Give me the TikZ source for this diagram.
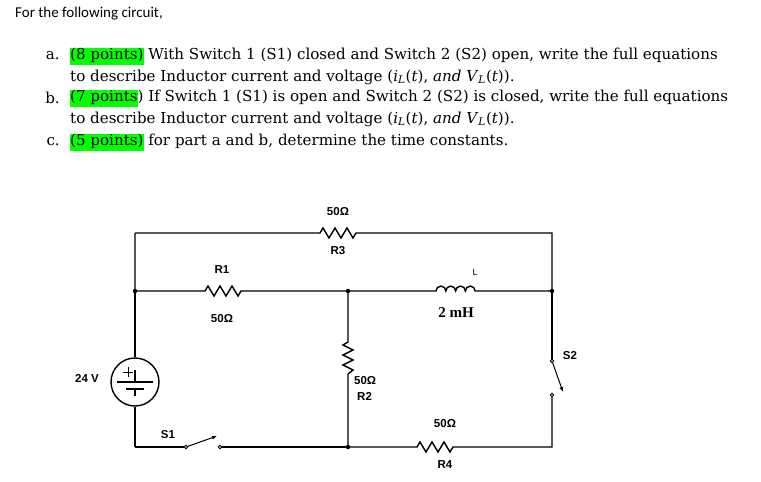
\documentclass[tikz,border=0pt]{standalone}
\usepackage{fontspec}
\setmainfont{DejaVu Serif}
\newfontfamily\calfnt{Carlito}
\newfontfamily\arl{Liberation Sans}
\newfontfamily\tms{Liberation Serif}
\usetikzlibrary{arrows.meta}
\definecolor{hl}{RGB}{0,255,0}
\newcommand{\hlt}[1]{{\setlength{\fboxsep}{0pt}\colorbox{hl}{\strut #1}}}
\newcommand{\iL}{\textit{i}\textsubscript{\textit{L}}(\textit{t})}
\newcommand{\VL}{\textit{V}\textsubscript{\textit{L}}(\textit{t})}
\tikzset{x=1pt,y=-1pt,
 wire/.style={line width=1.4pt},
 lab/.style={font=\arl\bfseries\fontsize{11.5}{12}\selectfont,inner sep=0pt},
 txt/.style={font=\fontsize{15.1}{17}\selectfont,anchor=west,inner sep=0pt},
 dotn/.style={circle,fill,inner sep=0pt,minimum size=4.5pt},
 cont/.style={circle,draw,fill=white,inner sep=0pt,minimum size=3.5pt,line width=0.8pt}}
\begin{document}
\begin{tikzpicture}
\useasboundingbox (0,0) rectangle (761,482);
\node[anchor=west,inner sep=0pt,font=\calfnt\fontsize{15}{17}\selectfont] (h) at (15,14) {For the following circuit,};
\node[txt,anchor=east] (la) at (60,56) {a.};
\node[txt] (ta) at (70,56) {\hlt{(8 points)} With Switch 1 (S1) closed and Switch 2 (S2) open, write the full equations};
\node[txt] (ta2) at (70,77) {to describe Inductor current and voltage (\iL, \textit{and} \VL).};
\node[txt,anchor=east] (lb) at (60,98) {b.};
\node[txt] (tb) at (70,98) {\hlt{(7 points}) If Switch 1 (S1) is open and Switch 2 (S2) is closed, write the full equations};
\node[txt] (tb2) at (70,119) {to describe Inductor current and voltage (\iL, \textit{and} \VL).};
\node[txt,anchor=east] (lc) at (60,142) {c.};
\node[txt] (tc) at (70,142) {\hlt{(5 points)} for part a and b, determine the time constants.};
% nodes
\coordinate (TL) at (135,233); \coordinate (TR) at (552,233);
\node[dotn] (ML) at (135,291) {}; \node[dotn] (MM) at (348,291) {}; \node[dotn] (MR) at (552,291) {};
\node[dotn] (BM) at (348,447) {};
\coordinate (BL) at (135,447); \coordinate (BR) at (552,447);
\node[cont] (s1a) at (186,447) {}; \node[cont] (s1b) at (220,447) {};
\node[cont] (s2a) at (552,361) {}; \node[cont] (s2b) at (552,395) {};
% R3
\draw[wire] (TL) -- (320,233) -- (323,228) -- (329,238) -- (335,228) -- (341,238) -- (347,228) -- (353,238) -- (356,233) -- (TR) -- (MR.center);
\node[lab] (r3a) at (338,212) {50Ω};
\node[lab] (r3b) at (338,251) {R3};
% R1
\draw[wire] (TL) -- (ML.center) -- (205,291) -- (208,286) -- (214,296) -- (220,286) -- (226,296) -- (232,286) -- (238,296) -- (241,291) -- (MM.center);
\node[lab] (r1a) at (222,270) {R1};
\node[lab] (r1b) at (222,319) {50Ω};
% inductor
\draw[wire] (MM.center) -- (436,291)
 arc[start angle=180,end angle=360,radius=4.9] arc[start angle=180,end angle=360,radius=4.9]
 arc[start angle=180,end angle=360,radius=4.9] arc[start angle=180,end angle=360,radius=4.9] -- (MR.center);
\node[inner sep=0pt,font=\arl\fontsize{9}{10}\selectfont] (Ll) at (475,272) {L};
\node[inner sep=0pt,font=\tms\bfseries\fontsize{15}{16}\selectfont] (Lv) at (456,313) {2 mH};
% R2
\draw[wire] (MM.center) -- (348,342) -- (343,345) -- (353,350) -- (343,355) -- (353,360) -- (343,365) -- (353,370) -- (348,374) -- (BM.center);
\node[lab,anchor=west] (r2a) at (354,381) {50Ω};
\node[lab,anchor=west] (r2b) at (357,396) {R2};
% source
\node[circle,draw,line width=1.4pt,minimum size=48pt,inner sep=0pt] (V) at (135,382) {};
\draw[wire] (ML.center) -- (V.north); \draw[wire] (V.south) -- (BL);
\draw[wire] (117,382) -- (153,382);
\draw[wire] (126,389) -- (144,389);
\draw[wire] (135,382) -- (135,370); \draw[wire] (135,389) -- (135,396);
\draw[line width=0.9pt] (123,372) -- (133,372) (128,367) -- (128,377);
\node[lab] (vl) at (87,378) {24 V};
% S1
\draw[wire] (BL) -- (s1a); \draw[wire] (s1b) -- (BM.center);
\draw[line width=1pt,-{Latex[length=5pt,width=4pt]}] (s1a) -- (217,436);
\node[lab] (s1l) at (168,435) {S1};
% R4
\draw[wire] (BM.center) -- (417,447) -- (420,442) -- (426,452) -- (432,442) -- (438,452) -- (444,442) -- (450,452) -- (453,447) -- (BR) -- (s2b);
\node[lab] (r4a) at (445,424) {50Ω};
\node[lab] (r4b) at (445,465) {R4};
% S2
\draw[wire] (MR.center) -- (s2a);
\draw[line width=1pt,-{Latex[length=5pt,width=4pt]}] (s2a) -- (563,392);
\node[lab] (s2l) at (570,356) {S2};
\end{tikzpicture}
\end{document}
